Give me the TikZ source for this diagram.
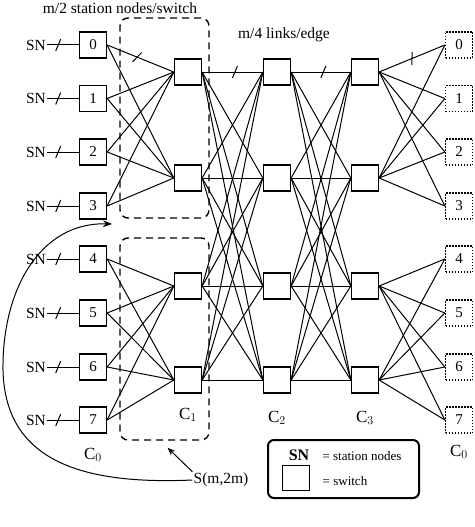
\documentclass[tikz,border=0pt]{standalone}
\usepackage{fontspec}
\setmainfont{Liberation Serif}
\usetikzlibrary{arrows.meta,calc,decorations.markings}

\begin{document}
\begin{tikzpicture}[x=1pt,y=-1pt,
    switch/.style={draw,line width=1.3pt,fill=white,minimum width=27pt,minimum height=26pt,inner sep=0pt},
    station/.style={switch,font=\fontsize{15}{15}\selectfont},
    remote/.style={station,dash pattern=on 1.5pt off 1.5pt},
    group/.style={draw,line width=1.4pt,dash pattern=on 7pt off 5pt,rounded corners=8pt,minimum width=89pt},
    link/.style={line width=1pt},
    linkslash/.style={postaction={decorate,decoration={markings,
        mark=at position #1 with {\draw[line width=1pt] (-2.5pt,-6pt) -- (2.5pt,6pt);}}}},
    linkslash/.default=0.5,
    lbl/.style={font=\fontsize{15.5}{15.5}\selectfont,inner sep=1pt},
    col/.style={font=\fontsize{17}{17}\selectfont}]
  \useasboundingbox (0,0) rectangle (474,527);

  \node[lbl] (title) at (120,8) {m/2 station nodes/switch};
  \node[lbl] (edge) at (284,35) {m/4 links/edge};

  \node[group,minimum height=200pt] (g0) at (164.5,118) {};
  \node[group,minimum height=202pt] (g1) at (164.5,339) {};

  % switch columns C1..C3
  \foreach \c/\x in {1/188,2/277,3/365}
    \foreach \j/\y in {0/72,1/178,2/286,3/380}
      \node[switch] (c\c-\j) at (\x,\y) {};

  \foreach \i/\y in {0/45,1/98.5,2/152,3/206,4/259,5/313,6/367,7/420} {
    \node[station] (l\i) at (93,\y) {\i};
    \node[remote] (r\i) at (459,\y) {\i};
    \node[lbl] (sn\i) at (36,\y) {SN};
    \draw[link,linkslash=0.35] (sn\i) -- (l\i);
  }

  \foreach \i in {0,...,7} {
    \pgfmathtruncatemacro\g{2*int(\i/4)}
    \pgfmathtruncatemacro\h{\g+1}
    \draw[link] (l\i.east) -- (c1-\g.west);
    \draw[link] (l\i.east) -- (c1-\h.west);
    \draw[link] (c3-\g.east) -- (r\i.west);
    \draw[link] (c3-\h.east) -- (r\i.west);
  }
  \foreach \c/\d in {1/2,2/3}
    \foreach \j in {0,...,3}
      \foreach \k in {0,...,3}
        \draw[link] (c\c-\j.east) -- (c\d-\k.west);
  \path[linkslash=0.45] (l0.east) -- (c1-0.west);
  \path[linkslash=0.54] (c1-0.east) -- (c2-0.west);
  \path[linkslash=0.54] (c2-0.east) -- (c3-0.west);
  \path[linkslash=0.5] (c3-0.east) -- (r0.west);

  \node[col] (k0) at (93,455) {C$_0$};
  \node[col] (k1) at (188,415) {C$_1$};
  \node[col] (k2) at (277,418) {C$_2$};
  \node[col] (k3) at (365,418) {C$_3$};
  \node[col] (k4) at (459,452) {C$_0$};

  % legend
  \node[draw,line width=2pt,rounded corners=6pt,minimum width=151pt,minimum height=58pt] (legend) at (343.5,469) {};
  \node[lbl,font=\fontsize{16}{16}\selectfont\bfseries] (legsn) at (299,455) {SN};
  \node[switch,minimum height=25pt] (legsw) at (296,478) {};
  \node[font=\fontsize{13}{13}\selectfont] (legsntext) at (362,456) {= station nodes};
  \node[font=\fontsize{13}{13}\selectfont] (legswtext) at (345,481) {= switch};

  \node[lbl] (sm) at (221,480) {S(m,2m)};
  \coordinate (gtip) at ($(g1.south)+(3,7)$);
  \coordinate (loop) at (112,224);
  \draw[link,-{Stealth[length=8pt]}] (sm.north west) -- (gtip);
  \draw[link,-{Stealth[length=9pt]}] (sm.west) .. controls (80,485) and (5,460) .. (3,370)
    .. controls (2,290) and (40,222) .. (loop);
\end{tikzpicture}
\end{document}
